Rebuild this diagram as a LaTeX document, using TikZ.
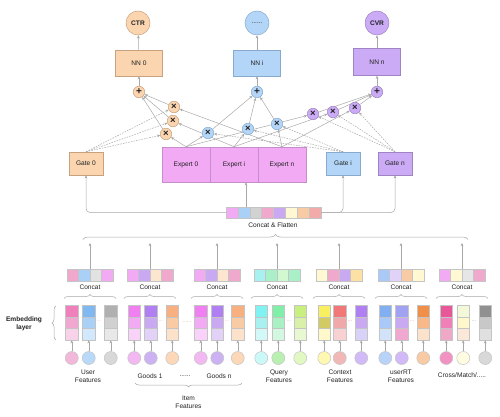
\documentclass[tikz,border=0pt]{standalone}
\usepackage{fontspec}
\setmainfont{Liberation Sans}
\usetikzlibrary{decorations.pathreplacing,arrows.meta,calc}
\pgfdeclarelayer{bg}\pgfsetlayers{bg,main}
\definecolor{orF}{HTML}{FAD5B0}\definecolor{orD}{HTML}{C8A27E}
\definecolor{blF}{HTML}{B3D5F8}\definecolor{blD}{HTML}{88AACC}
\definecolor{puF}{HTML}{CBABF5}\definecolor{puD}{HTML}{9E84C2}
\definecolor{exF}{HTML}{F2AAF4}\definecolor{exD}{HTML}{C68EC8}
\definecolor{ln}{HTML}{A8A8A8}
\definecolor{cellD}{HTML}{C4C4C4}
\definecolor{txt}{HTML}{222222}
\newcommand{\embcol}[6]{%
  \definecolor{ka}{HTML}{#2}\definecolor{kb}{HTML}{#3}\definecolor{kc}{HTML}{#4}\definecolor{kd}{HTML}{#5}%
  \fill[fill=ka] (#1-6.25,305.5) rectangle (#1+6.25,317);
  \fill[fill=kb] (#1-6.25,317) rectangle (#1+6.25,328.5);
  \fill[fill=kc] (#1-6.25,328.5) rectangle (#1+6.25,340);
  \draw[cellD,line width=0.5pt] (#1-6.25,317) -- (#1+6.25,317) (#1-6.25,328.5) -- (#1+6.25,328.5);
  \node[colbox] (#6c) at (#1,322.75) {};
  \node[featc,fill=kd] (#6) at (#1,358) {};
  \draw[arr] (#6) -- (#6c);
}
\newcommand{\cbar}[6]{%
  \definecolor{ka}{HTML}{#2}\definecolor{kb}{HTML}{#3}\definecolor{kc}{HTML}{#4}\definecolor{kd}{HTML}{#5}%
  \fill[fill=ka] (#1-23,269) rectangle (#1-11.5,281);
  \fill[fill=kb] (#1-11.5,269) rectangle (#1,281);
  \fill[fill=kc] (#1,269) rectangle (#1+11.5,281);
  \fill[fill=kd] (#1+11.5,269) rectangle (#1+23,281);
  \draw[cellD,line width=0.5pt] (#1-11.5,269) -- (#1-11.5,281) (#1,269) -- (#1,281) (#1+11.5,269) -- (#1+11.5,281);
  \node[draw=cellD,line width=0.5pt,minimum width=46pt,minimum height=12pt,inner sep=0] (#6) at (#1,275) {};
  \node at (#1,287) {Concat};
  \coordinate (#6t) at (#1,243);
  \draw[arr] (#6) -- (#6t);
  \draw[brc] (#1-26,298.5) -- (#1+26,298.5);
}
\begin{document}
\begin{tikzpicture}[x=1pt,y=-1pt,font=\fontsize{6.6}{7.7}\selectfont,text=txt,
  arr/.style={draw=ln,line width=0.5pt,-{Stealth[length=3.2pt,width=2.8pt]}},
  dsh/.style={arr,dash pattern=on 1.6pt off 1.1pt},
  brc/.style={draw=ln,line width=0.5pt,decorate,decoration={brace,amplitude=4pt}},
  bx/.style={rectangle,line width=0.5pt,inner sep=0pt},
  bigc/.style={circle,line width=0.5pt,minimum size=24pt,inner sep=0pt,font=\fontsize{6.6}{7}\selectfont\bfseries},
  opc/.style={circle,line width=0.5pt,minimum size=11.5pt,inner sep=0pt,font=\fontsize{10}{10}\selectfont\bfseries},
  mulc/.style={opc,font=\fontsize{9.5}{9.5}\selectfont\bfseries},
  colbox/.style={draw=cellD,line width=0.5pt,minimum width=12.5pt,minimum height=34.5pt,inner sep=0pt},
  featc/.style={circle,draw=cellD,line width=0.5pt,minimum size=13pt,inner sep=0pt},
  lab/.style={align=center}]
\useasboundingbox (0,0) rectangle (500,417);
% top outputs
\node[bigc,fill=orF,draw=orD] (ctr) at (138,23) {CTR};
\node[bigc,fill=blF,draw=blD] (mid) at (257,23) {\mdseries......};
\node[bigc,fill=puF,draw=puD] (cvr) at (377,23) {CVR};
\node[bx,fill=orF,draw=orD,minimum width=47pt,minimum height=26pt] (nn0) at (139,63) {NN 0};
\node[bx,fill=blF,draw=blD,minimum width=47pt,minimum height=26pt] (nni) at (257,63) {NN i};
\node[bx,fill=puF,draw=puD,minimum width=47pt,minimum height=27pt] (nnn) at (377,62) {NN n};
\draw[arr] (nn0) -- (ctr);
\draw[arr] (nni) -- (mid);
\draw[arr] (nnn) -- (cvr);
\node[opc,fill=orF,draw=orD] (p0) at (139,92) {+};
\node[opc,fill=blF,draw=blD] (pi) at (257,92) {+};
\node[opc,fill=puF,draw=puD] (pn) at (377,92) {+};
\draw[arr] (p0) -- (nn0);
\draw[arr] (pi) -- (nni);
\draw[arr] (pn) -- (nnn);
% multiply circles
\node[mulc,fill=orF,draw=orD] (xo1) at (174,107) {×};
\node[mulc,fill=orF,draw=orD] (xo2) at (173,121) {×};
\node[mulc,fill=orF,draw=orD] (xo3) at (166,134) {×};
\node[mulc,fill=blF,draw=blD] (xb1) at (208,133) {×};
\node[mulc,fill=blF,draw=blD] (xb2) at (248,129) {×};
\node[mulc,fill=blF,draw=blD] (xb3) at (277,124) {×};
\node[mulc,fill=puF,draw=puD] (xp1) at (313,114) {×};
\node[mulc,fill=puF,draw=puD] (xp2) at (333,112) {×};
\node[mulc,fill=puF,draw=puD] (xp3) at (355,108) {×};
% experts and gates
\node[bx,fill=exF,draw=exD,minimum width=48pt,minimum height=35pt] (e0) at (186,164.5) {Expert 0};
\node[bx,fill=exF,draw=exD,minimum width=48pt,minimum height=35pt] (ei) at (234,164.5) {Expert i};
\node[bx,fill=exF,draw=exD,minimum width=48pt,minimum height=35pt] (en) at (282,164.5) {Expert n};
\node[bx,fill=orF,draw=orD,minimum width=34pt,minimum height=23pt] (g0) at (86,163.5) {Gate 0};
\node[bx,fill=blF,draw=blD,minimum width=34pt,minimum height=23pt] (gi) at (343,163.5) {Gate i};
\node[bx,fill=puF,draw=puD,minimum width=34pt,minimum height=23pt] (gn) at (395,163.5) {Gate n};
\begin{pgfonlayer}{bg}
\foreach \a/\b in {xo1/p0,xo2/p0,xo3/p0,xb1/pi,xb2/pi,xb3/pi,xp1/pn,xp2/pn,xp3/pn}
  \draw[arr] (\a) -- (\b);
\foreach \a/\b in {e0/xo3,e0/xb1,e0/xp1,ei/xo2,ei/xb2,ei/xp2,en/xo1,en/xb3,en/xp3}
  \draw[arr] (\a.north) -- (\b);
\foreach \a/\b in {g0/xo1,g0/xo2,g0/xo3,gi/xb1,gi/xb2,gi/xb3,gn/xp1,gn/xp2,gn/xp3}
  \draw[dsh] (\a.north) -- (\b);
\end{pgfonlayer}
% concat & flatten bar
\foreach \c [count=\k from 0] in {F2AAF4,A9D1F8,D2D2D2,F0A8CC,C9A9F2,FFF8D2,F8CBA4,F2AAAA}{
  \definecolor{tmpc}{HTML}{\c}
  \fill[tmpc] (226+\k*11.875,207) rectangle (226+\k*11.875+11.875,218);
  \draw[cellD,line width=0.5pt] (226+\k*11.875,207) -- (226+\k*11.875,218);
}
\node[draw=cellD,line width=0.5pt,minimum width=95pt,minimum height=11pt,inner sep=0] (bar) at (273.5,212.5) {};
\node at (273,225.5) {Concat \& Flatten};
\coordinate (bt) at (246,207);
\draw[arr] (bt) -- (bt |- ei.south);
\draw[arr,rounded corners=4pt] (bar.west) -| (g0.south);
\draw[arr,rounded corners=4pt] (bar.east) -| (gi.south);
\draw[arr,rounded corners=4pt] (bar.east) -| (gn.south);
\draw[brc,decoration={brace,amplitude=5pt}] (83,239.5) -- (468,239.5);
% concat bars
\cbar{90}{F0A8CC}{A9D1F8}{E2E2E2}{F2AAF4}{cu}
\cbar{150}{F2AAF4}{C9A9F2}{FCE6D0}{F0A8CC}{cg1}
\cbar{217}{F2AAF4}{C9A9F2}{FCE6D0}{F0A8CC}{cgn}
\cbar{277}{A9F0F0}{A9F0C8}{D2F8D2}{A9F0C8}{cq}
\cbar{339}{FFF8D2}{F0A8CC}{C9A9F2}{FCE0A4}{cc}
\cbar{401}{A9C9F8}{E0D2F8}{F8CBA4}{FFF8D2}{cr}
\cbar{462}{F2AAF4}{FFF8D2}{E6E6E6}{F0A8CC}{cx}
% embedding columns
\embcol{71.75}{F080BC}{F0A8D0}{F8D2E8}{F2B8DA}{u1}
\embcol{88.75}{80B8F2}{A9D1F8}{D2E8FC}{B9D9F8}{u2}
\embcol{110.75}{B0B0B0}{D0D0D0}{E8E8E8}{D8D8D8}{u3}
\embcol{134.25}{F080F2}{F2AAF4}{F8D2F8}{F2B8F2}{a1}
\embcol{150.75}{B080F2}{C9A9F2}{E2D2F8}{CCB2F2}{a2}
\embcol{172.25}{F8B080}{F8CBA4}{FCE2CA}{FCD8B8}{a3}
\embcol{200.75}{F080F2}{F2AAF4}{F8D2F8}{F2B8F2}{b1}
\embcol{217.25}{B080F2}{C9A9F2}{E2D2F8}{CCB2F2}{b2}
\embcol{237.75}{F8B080}{F8CBA4}{FCE2CA}{FCD8B8}{b3}
\embcol{261.25}{80F2F2}{A9F0F0}{D2F8F8}{CCF8F8}{q1}
\embcol{278.25}{80F0A8}{A9F0C2}{D2F8E2}{B9F0B2}{q2}
\embcol{300.25}{C8F080}{D8F0A9}{E8F8D2}{E2F8C2}{q3}
\embcol{324.25}{F8F060}{D2CA62}{FFF8CA}{FFF8B2}{t1}
\embcol{339.75}{F07878}{F0A8A8}{F8D2D2}{F2B8B8}{t2}
\embcol{361.25}{B080F2}{C9A9F2}{D8D2F8}{D2B9F8}{t3}
\embcol{385.25}{80B0F2}{A9C9F8}{D2E2F8}{B9D2F8}{r1}
\embcol{401.75}{A2A2F2}{C9A9F2}{F0A8D0}{D2B9F8}{r2}
\embcol{423.25}{F09048}{F8B888}{FCE2CA}{F8CBA4}{r3}
\embcol{446.25}{E85898}{F080B8}{F0A8C8}{F292C2}{s1}
\embcol{463.25}{F2F8D8}{FFF8CA}{FCE8D8}{FFFCE2}{s2}
\embcol{485.25}{909090}{C8C8C8}{E0E0E0}{D8D8D8}{s3}
% dots between columns
\foreach \x/\c in {99/F0A080,161/F0A080,227/F0A080,289/A8A8A8,350/F07070,412/F08060,474/909090}
  {\definecolor{tmpc}{HTML}{\c}\node[text=tmpc] at (\x,322) {\fontsize{5}{5}\selectfont ···};}
\node[text=orD] at (187,322) {\fontsize{5}{5}\selectfont ......};
% embedding layer label
\node[lab,font=\fontsize{6.6}{7.7}\selectfont\bfseries] (emb) at (24,323.5) {Embedding\\layer};
\draw[brc] (56,340) -- (56,306);
% feature labels
\node[lab] (lu) at (88,376) {User\\Features};
\node (lg1) at (150,376.5) {Goods 1};
\node (lgd) at (185,376.5) {......};
\node (lgn) at (219,376.5) {Goods n};
\draw[brc] (242,383) -- (135,383);
\node[lab] (li) at (188.5,402) {Item\\Features};
\node[lab] (lq) at (279,376) {Query\\Features};
\node[lab] (lc) at (340,376) {Context\\Features};
\node[lab] (lr) at (401,376) {userRT\\Features};
\node (lx) at (462,375.5) {Cross/Match/.....};
\end{tikzpicture}
\end{document}
